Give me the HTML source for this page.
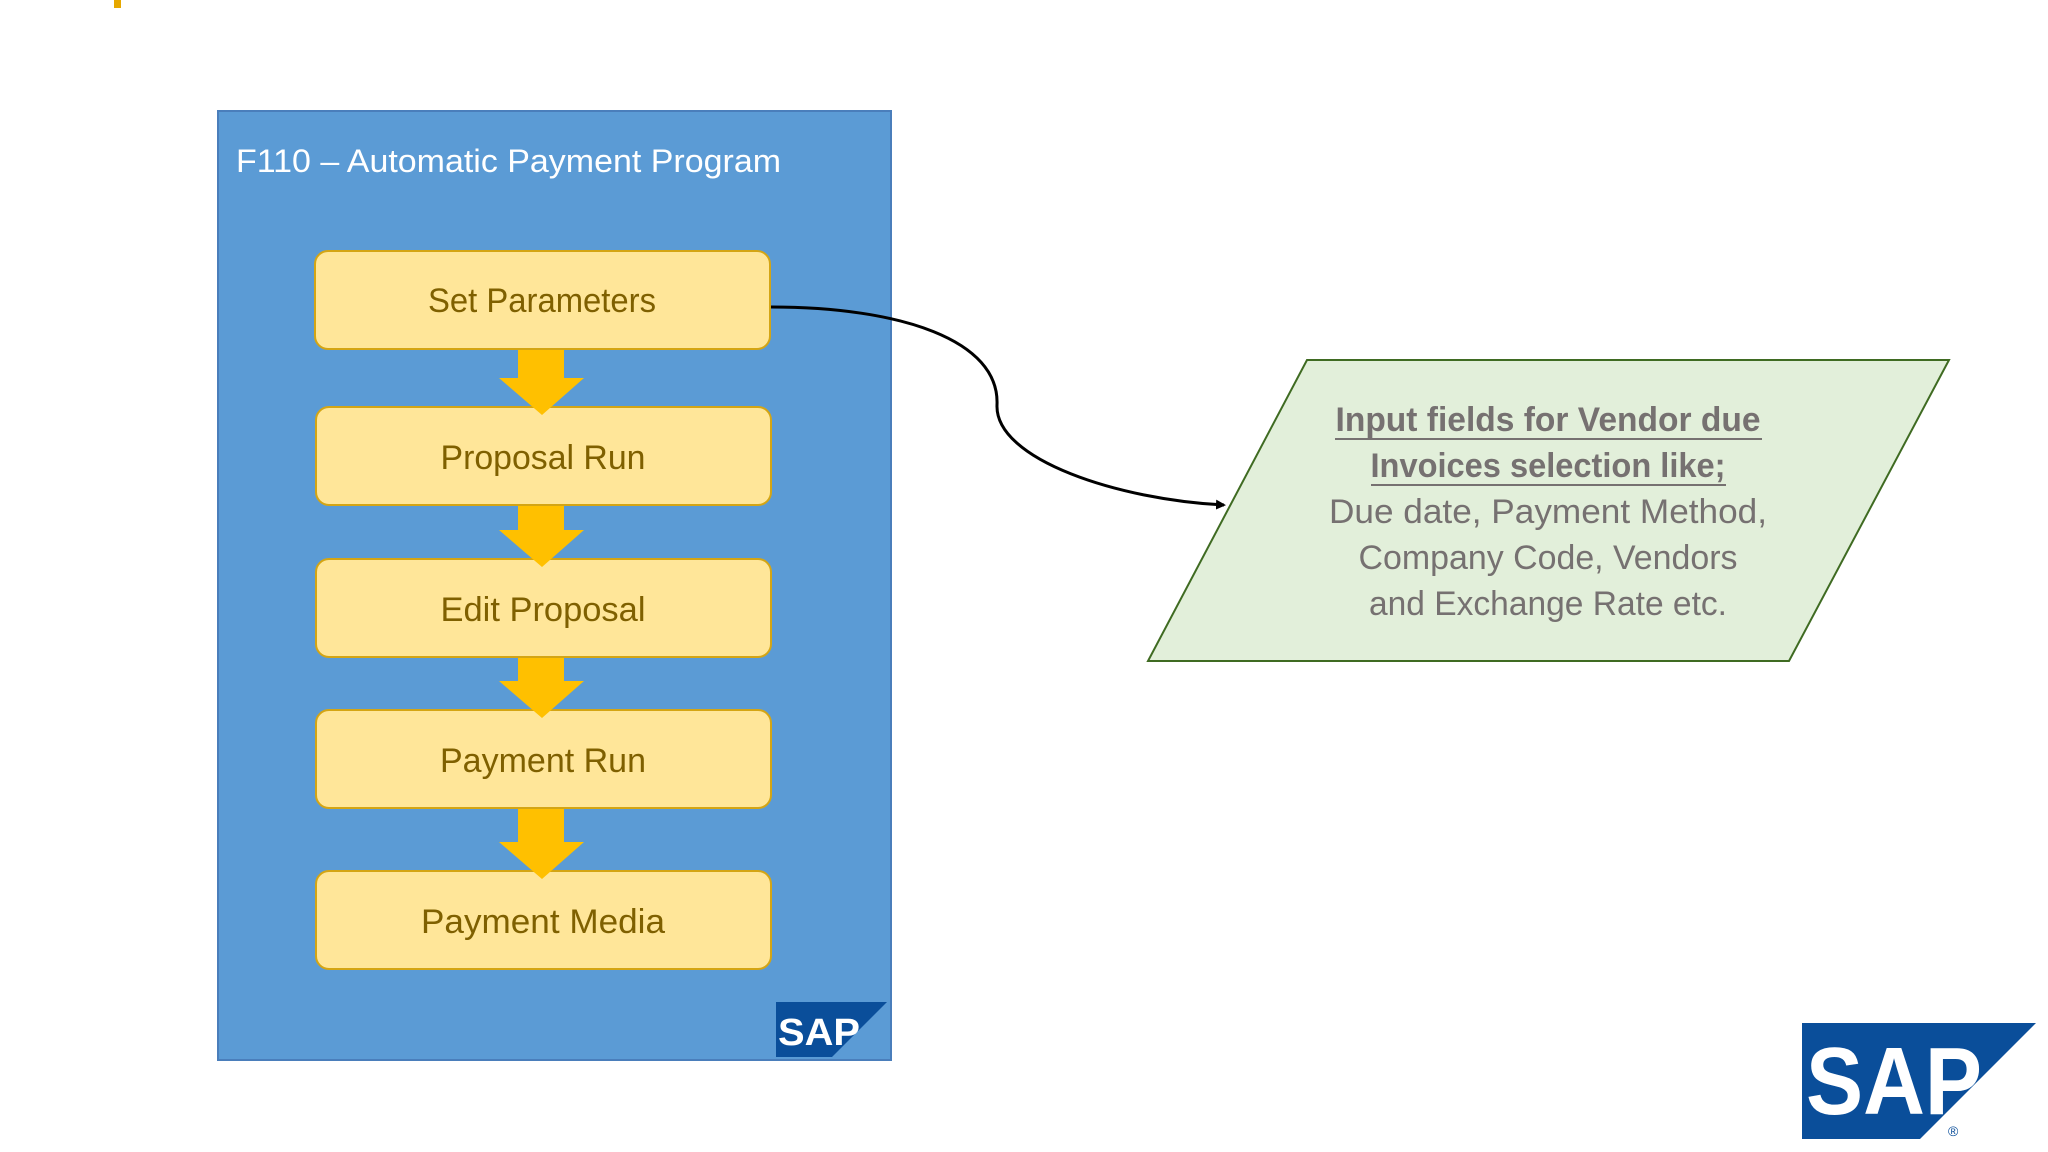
<!DOCTYPE html>
<html><head><meta charset="utf-8"><style>html,body{margin:0;padding:0;background:#fff;}svg{display:block}</style></head>
<body>
<svg width="2048" height="1152" viewBox="0 0 2048 1152" xmlns="http://www.w3.org/2000/svg" font-family="Liberation Sans, sans-serif">
<defs>
<marker id="ah" markerWidth="10" markerHeight="10" refX="8" refY="5" orient="auto" markerUnits="userSpaceOnUse"><path d="M0,0 L10,5 L0,10 z" fill="#000"/></marker>
</defs>
<rect x="114" y="0" width="7" height="8" fill="#e6a800"/>
<rect x="218" y="111" width="673" height="949" fill="#5b9bd5" stroke="#4a7ebb" stroke-width="2"/>
<text x="236" y="172" font-size="32" fill="#fff" textLength="545" lengthAdjust="spacingAndGlyphs">F110 – Automatic Payment Program</text>
<g fill="#ffe699" stroke="#d4a514" stroke-width="2">
<rect x="315" y="251" width="455" height="98" rx="13"/>
<rect x="316" y="407" width="455" height="98" rx="13"/>
<rect x="316" y="559" width="455" height="98" rx="13"/>
<rect x="316" y="710" width="455" height="98" rx="13"/>
<rect x="316" y="871" width="455" height="98" rx="13"/>
</g>
<g fill="#ffc000">
<path d="M518,350 H564 V378 H584 L542,415 L499,378 H518 Z"/>
<path d="M518,506 H564 V530 H584 L542,567 L499,530 H518 Z"/>
<path d="M518,658 H564 V681 H584 L542,718 L499,681 H518 Z"/>
<path d="M518,809 H564 V842 H584 L542,879 L499,842 H518 Z"/>
</g>
<g font-size="34" fill="#7f6000" text-anchor="middle">
<text x="542" y="312" textLength="228" lengthAdjust="spacingAndGlyphs">Set Parameters</text>
<text x="543" y="469" textLength="205" lengthAdjust="spacingAndGlyphs">Proposal Run</text>
<text x="543" y="621" textLength="205" lengthAdjust="spacingAndGlyphs">Edit Proposal</text>
<text x="543" y="772" textLength="206" lengthAdjust="spacingAndGlyphs">Payment Run</text>
<text x="543" y="933" textLength="244" lengthAdjust="spacingAndGlyphs">Payment Media</text>
</g>
<path d="M771,307 C 900,307 1000,340 997,405 C 995,460 1120,500 1224,505" fill="none" stroke="#000" stroke-width="3" marker-end="url(#ah)"/>
<polygon points="1307,360 1949,360 1789,661 1148,661" fill="#e2efda" stroke="#3f6b22" stroke-width="2"/>
<g font-size="34" fill="#767171" text-anchor="middle">
<text x="1548" y="431" font-weight="bold" textLength="425" lengthAdjust="spacingAndGlyphs">Input fields for Vendor due</text>
<text x="1548" y="477" font-weight="bold" textLength="355" lengthAdjust="spacingAndGlyphs">Invoices selection like;</text>
<text x="1548" y="523" textLength="438" lengthAdjust="spacingAndGlyphs">Due date, Payment Method,</text>
<text x="1548" y="569" textLength="379" lengthAdjust="spacingAndGlyphs">Company Code, Vendors</text>
<text x="1548" y="615" textLength="358" lengthAdjust="spacingAndGlyphs">and Exchange Rate etc.</text>
</g>
<line x1="1335" y1="439" x2="1762" y2="439" stroke="#767171" stroke-width="2"/>
<line x1="1371" y1="485" x2="1726" y2="485" stroke="#767171" stroke-width="2"/>
<g>
<polygon points="776,1002 887,1002 832,1057 776,1057" fill="#0a4e9a"/>
<text x="778" y="1045" font-size="38" font-weight="bold" fill="#fff" textLength="82" lengthAdjust="spacingAndGlyphs">SAP</text>
</g>
<g>
<polygon points="1802,1023 2036,1023 1920,1139 1802,1139" fill="#0a4e9a"/>
<text x="1806" y="1114" font-size="96" font-weight="bold" fill="#fff" textLength="176" lengthAdjust="spacingAndGlyphs">SAP</text>
<text x="1948" y="1136" font-size="14" fill="#0a4e9a">®</text>
</g>
</svg>
</body></html>
